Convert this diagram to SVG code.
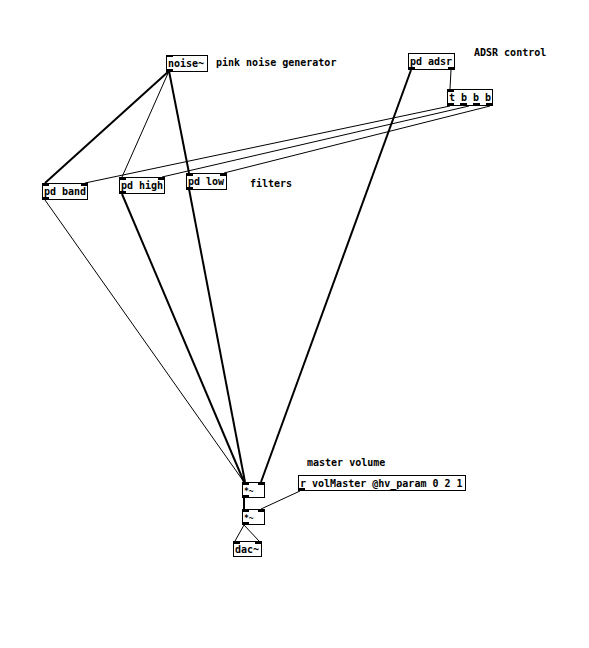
<svg xmlns="http://www.w3.org/2000/svg" width="589" height="648" viewBox="0 0 589 648">
<style>
.box{fill:#fff;stroke:#000;stroke-width:1}
.io{fill:#000}
.t{font-family:"DejaVu Sans Mono",monospace;font-size:10px;font-weight:bold;fill:#000}
.c{stroke:#000;stroke-width:1;fill:none}
.s{stroke:#000;stroke-width:2;fill:none}
</style>
<rect width="589" height="648" fill="#fff"/>
<g id="connectors">
<line class="s" x1="169" y1="71" x2="45" y2="183"/>
<line class="c" x1="169" y1="71" x2="122" y2="177"/>
<line class="s" x1="169" y1="71" x2="189" y2="173"/>
<line class="c" x1="45" y1="200" x2="244" y2="482"/>
<line class="s" x1="122" y1="194" x2="244" y2="482"/>
<line class="s" x1="189" y1="189" x2="245" y2="482"/>
<line class="s" x1="411" y1="70" x2="261" y2="482"/>
<line class="c" x1="451" y1="70" x2="450" y2="89"/>
<line class="c" x1="450" y1="106" x2="85" y2="183"/>
<line class="c" x1="469" y1="106" x2="162" y2="177"/>
<line class="c" x1="490" y1="106" x2="224" y2="173"/>
<line class="s" x1="244" y1="498" x2="244" y2="509"/>
<line class="c" x1="300" y1="491" x2="261" y2="509"/>
<line class="c" x1="244" y1="525" x2="235" y2="541"/>
<line class="c" x1="244" y1="525" x2="259" y2="541"/>
</g>
<g id="noise">
<rect class="box" x="166.5" y="55.5" width="41" height="16"/>
<rect class="io" x="166" y="55" width="7" height="2"/>
<rect class="io" x="166" y="69" width="7" height="3"/>
<text class="t" x="168" y="67">noise~</text>
</g>
<g id="pdadsr">
<rect class="box" x="408.5" y="53.5" width="46" height="16"/>
<rect class="io" x="408" y="67" width="7" height="3"/>
<rect class="io" x="448" y="67" width="7" height="3"/>
<text class="t" x="410" y="65">pd adsr</text>
</g>
<g id="tbbb">
<rect class="box" x="447.5" y="89.5" width="45" height="16"/>
<rect class="io" x="447" y="89" width="7" height="3"/>
<rect class="io" x="447" y="103" width="7" height="3"/>
<rect class="io" x="460" y="103" width="7" height="3"/>
<rect class="io" x="473" y="103" width="7" height="3"/>
<rect class="io" x="486" y="103" width="7" height="3"/>
<text class="t" x="449" y="101">t b b b</text>
</g>
<g id="pdband">
<rect class="box" x="42.5" y="183.5" width="45" height="16"/>
<rect class="io" x="42" y="183" width="7" height="3"/>
<rect class="io" x="81" y="183" width="7" height="3"/>
<rect class="io" x="42" y="197" width="7" height="3"/>
<text class="t" x="44" y="195">pd band</text>
</g>
<g id="pdhigh">
<rect class="box" x="119.5" y="177.5" width="45" height="16"/>
<rect class="io" x="119" y="177" width="7" height="3"/>
<rect class="io" x="158" y="177" width="7" height="3"/>
<rect class="io" x="119" y="191" width="7" height="3"/>
<text class="t" x="121" y="189">pd high</text>
</g>
<g id="pdlow">
<rect class="box" x="186.5" y="173.5" width="40" height="16"/>
<rect class="io" x="186" y="173" width="7" height="3"/>
<rect class="io" x="220" y="173" width="7" height="3"/>
<rect class="io" x="186" y="187" width="7" height="3"/>
<text class="t" x="188" y="185">pd low</text>
</g>
<g id="mul1">
<rect class="box" x="242.5" y="482.5" width="22" height="15"/>
<rect class="io" x="242" y="482" width="7" height="3"/>
<rect class="io" x="258" y="482" width="7" height="3"/>
<rect class="io" x="242" y="495" width="7" height="3"/>
<text class="t" x="244" y="494" style="font-size:8px">*~</text>
</g>
<g id="mul2">
<rect class="box" x="242.5" y="509.5" width="22" height="15"/>
<rect class="io" x="242" y="509" width="7" height="3"/>
<rect class="io" x="258" y="509" width="7" height="3"/>
<rect class="io" x="242" y="522" width="7" height="3"/>
<text class="t" x="244" y="521" style="font-size:8px">*~</text>
</g>
<g id="rvol">
<rect class="box" x="298.5" y="475.5" width="167" height="15"/>
<rect class="io" x="298" y="488" width="7" height="3"/>
<text class="t" x="300" y="487">r volMaster @hv_param 0 2 1</text>
</g>
<g id="dac">
<rect class="box" x="233.5" y="541.5" width="28" height="15"/>
<rect class="io" x="233" y="541" width="7" height="3"/>
<rect class="io" x="255" y="541" width="7" height="3"/>
<text class="t" x="235" y="553">dac~</text>
</g>
<g id="comments">
<text class="t" x="216" y="66">pink noise generator</text>
<text class="t" x="474" y="56">ADSR control</text>
<text class="t" x="250" y="187">filters</text>
<text class="t" x="307" y="466">master volume</text>
</g>
</svg>
